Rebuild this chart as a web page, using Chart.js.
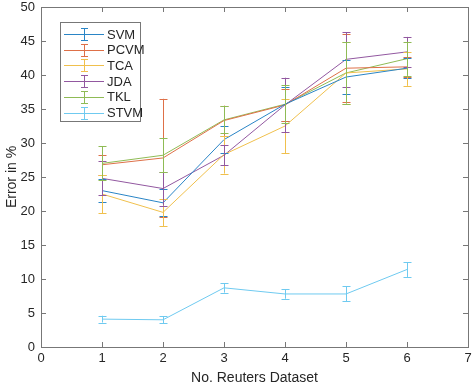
<!DOCTYPE html>
<html>
<head>
<meta charset="utf-8">
<script src="https://cdn.jsdelivr.net/npm/chart.js@4.4.1/dist/chart.umd.min.js"></script>
<style>
  body { margin: 0; background: #fff; }
  #wrap { width: 474px; height: 389px; }
</style>
</head>
<body>
<div id="wrap"><canvas id="chart" width="474" height="389"></canvas></div>
<script>
const datasetsX = [1, 2, 3, 4, 5, 6];
const xTicks = [0, 1, 2, 3, 4, 5, 6, 7];
const yTicks = [0, 5, 10, 15, 20, 25, 30, 35, 40, 45, 50];

const methods = ["SVM", "PCVM", "TCA", "JDA", "TKL", "STVM"];
const colors = ["#2a85c6", "#de7048", "#f0c04d", "#9258a0", "#8fbb55", "#6fcaf0"];

// mean error per dataset
const svm  = [23.0, 21.2, 30.5, 35.7, 39.7, 41.0];
const pcvm = [26.8, 27.8, 33.3, 35.6, 41.0, 41.2];
const tca  = [22.5, 19.8, 28.3, 32.5, 40.3, 40.9];
const jda  = [24.8, 23.3, 28.2, 35.6, 42.3, 43.4];
const tkl  = [27.0, 28.2, 33.4, 35.7, 40.3, 42.4];
const stvm = [4.1, 4.0, 8.7, 7.8, 7.8, 11.4];

// error bar half widths
const svmErr  = [1.7, 2.0, 2.0, 2.5, 2.5, 1.5];
const pcvmErr = [1.5, 8.7, 2.2, 2.3, 5.0, 1.5];
const tcaErr  = [2.8, 2.0, 2.8, 4.0, 4.5, 2.5];
const jdaErr  = [2.5, 2.5, 1.5, 4.0, 4.0, 2.2];
const tklErr  = [2.5, 2.5, 2.0, 2.8, 4.5, 2.5];
const stvmErr = [0.5, 0.5, 0.7, 0.7, 1.1, 1.1];

const means = [svm, pcvm, tca, jda, tkl, stvm];
const errs = [svmErr, pcvmErr, tcaErr, jdaErr, tklErr, stvmErr];

const axisColor = "#777777";
const textColor = "#262626";
const font = "Liberation Sans, Arial, sans-serif";

// draw error bars from the data via the scales
const errorBars = {
  id: "errorBars",
  afterDatasetsDraw(chart) {
    const { ctx, scales: { x, y } } = chart;
    ctx.save();
    ctx.lineWidth = 1;
    chart.data.datasets.forEach((ds, i) => {
      ctx.strokeStyle = ds.borderColor;
      ds.data.forEach((p, j) => {
        const e = errs[i][j];
        const px = Math.round(x.getPixelForValue(p.x)) + 0.5;
        const top = y.getPixelForValue(p.y + e);
        const bot = y.getPixelForValue(p.y - e);
        ctx.beginPath();
        ctx.moveTo(px, top); ctx.lineTo(px, bot);
        ctx.moveTo(px - 4, Math.round(top) + 0.5); ctx.lineTo(px + 4, Math.round(top) + 0.5);
        ctx.moveTo(px - 4, Math.round(bot) + 0.5); ctx.lineTo(px + 4, Math.round(bot) + 0.5);
        ctx.stroke();
      });
    });
    ctx.restore();
  }
};

// MATLAB style box with inward ticks and a framed legend
const boxAndLegend = {
  id: "boxAndLegend",
  afterDraw(chart) {
    const { ctx, chartArea: a, scales: { x, y } } = chart;
    ctx.save();
    ctx.strokeStyle = axisColor;
    ctx.lineWidth = 1;
    ctx.strokeRect(Math.round(a.left) + 0.5, Math.round(a.top) + 0.5,
      Math.round(a.right - a.left), Math.round(a.bottom - a.top));
    ctx.beginPath();
    xTicks.forEach(v => {
      const px = Math.round(x.getPixelForValue(v)) + 0.5;
      ctx.moveTo(px, a.bottom); ctx.lineTo(px, a.bottom - 5);
      ctx.moveTo(px, a.top); ctx.lineTo(px, a.top + 5);
    });
    yTicks.forEach(v => {
      const py = Math.round(y.getPixelForValue(v)) + 0.5;
      ctx.moveTo(a.left, py); ctx.lineTo(a.left + 5, py);
      ctx.moveTo(a.right, py); ctx.lineTo(a.right - 5, py);
    });
    ctx.stroke();

    // legend
    const lx = 60, ly = 22, lw = 80, lh = 99;
    ctx.fillStyle = "#fff";
    ctx.fillRect(lx, ly, lw, lh);
    ctx.strokeStyle = axisColor;
    ctx.strokeRect(lx + 0.5, ly + 0.5, lw, lh);
    ctx.font = "13px " + font;
    ctx.textBaseline = "middle";
    chart.data.datasets.forEach((ds, i) => {
      const cy = ly + 12 + i * 15.7;
      const ry = Math.round(cy) + 0.5;
      ctx.strokeStyle = ds.borderColor;
      ctx.beginPath();
      ctx.moveTo(lx + 4, ry); ctx.lineTo(lx + 44, ry);
      ctx.moveTo(lx + 24.5, ry - 6); ctx.lineTo(lx + 24.5, ry + 6);
      ctx.moveTo(lx + 21, ry - 6); ctx.lineTo(lx + 28, ry - 6);
      ctx.moveTo(lx + 21, ry + 6); ctx.lineTo(lx + 28, ry + 6);
      ctx.stroke();
      ctx.fillStyle = textColor;
      ctx.fillText(ds.label, lx + 47, cy + 1);
    });
    ctx.restore();
  }
};

new Chart(document.getElementById("chart"), {
  type: "line",
  data: {
    datasets: methods.map((m, i) => ({
      label: m,
      data: datasetsX.map((xv, j) => ({ x: xv, y: means[i][j] })),
      borderColor: colors[i],
      borderWidth: 1,
      pointRadius: 0,
      fill: false,
      tension: 0
    }))
  },
  options: {
    responsive: false,
    animation: false,
    layout: { padding: { top: 7, right: 6, left: 4, bottom: 0 } },
    plugins: { legend: { display: false }, tooltip: { enabled: false } },
    scales: {
      x: {
        type: "linear",
        min: 0, max: 7,
        afterBuildTicks: s => { s.ticks = xTicks.map(v => ({ value: v })); },
        afterFit: s => { s.height = 42; s.paddingRight = 0; s.paddingLeft = 0; },
        grid: { display: false, drawTicks: false },
        border: { display: false },
        ticks: { color: textColor, font: { family: font, size: 13 }, padding: 4 },
        title: { display: true, text: "No. Reuters Dataset", color: textColor,
          font: { family: font, size: 14 }, padding: { top: 0, bottom: 2 } }
      },
      y: {
        min: 0, max: 50,
        afterBuildTicks: s => { s.ticks = yTicks.map(v => ({ value: v })); },
        afterFit: s => { s.width = 37; s.paddingTop = 0; s.paddingBottom = 0; },
        grid: { display: false, drawTicks: false },
        border: { display: false },
        ticks: { color: textColor, font: { family: font, size: 13 }, padding: 6 },
        title: { display: true, text: "Error in %", color: textColor,
          font: { family: font, size: 14 }, padding: { top: 0, bottom: 2 } }
      }
    }
  },
  plugins: [errorBars, boxAndLegend]
});
</script>
</body>
</html>
